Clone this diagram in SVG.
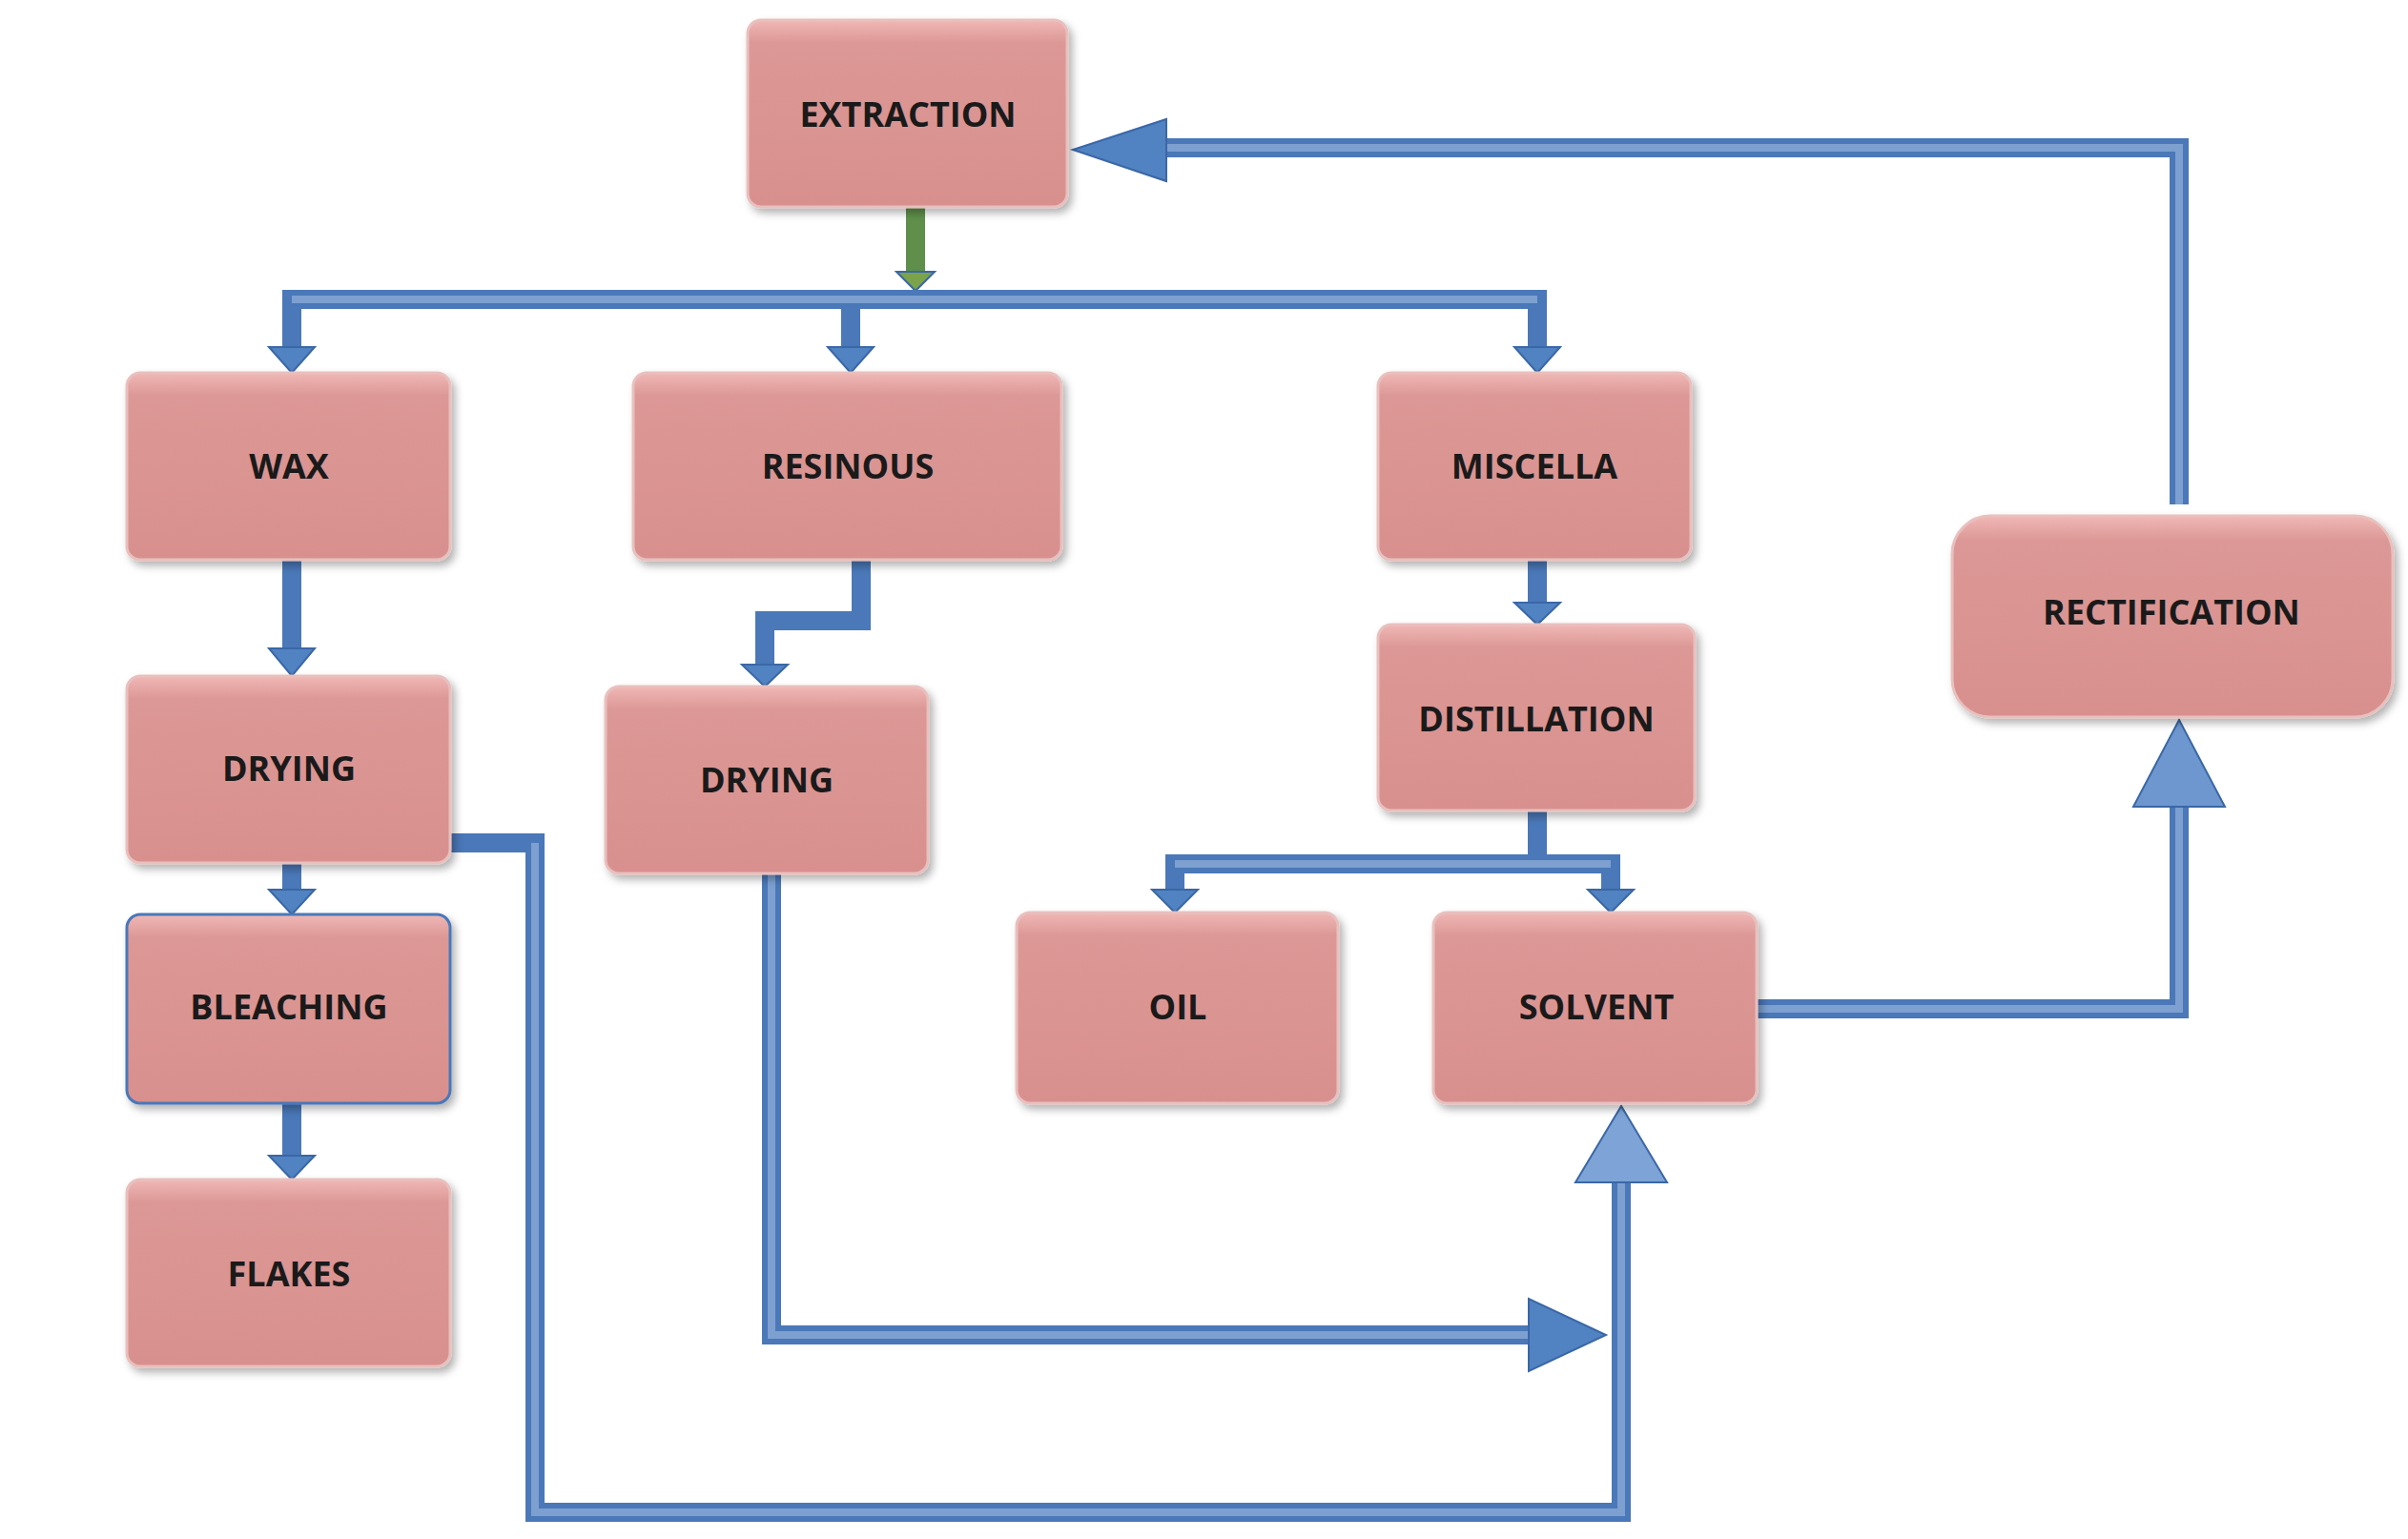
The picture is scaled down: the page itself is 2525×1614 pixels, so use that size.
<svg xmlns="http://www.w3.org/2000/svg" width="2525" height="1614" viewBox="0 0 2525 1614">
<defs>
<linearGradient id="bg" x1="0" y1="0" x2="0" y2="1"><stop offset="0" stop-color="#f0b8b6"/><stop offset="0.12" stop-color="#dc9896"/><stop offset="1" stop-color="#d8908e"/></linearGradient>
<filter id="sh" x="-10%" y="-10%" width="130%" height="130%"><feDropShadow dx="4" dy="5" stdDeviation="4" flood-color="#000" flood-opacity="0.3"/></filter>
</defs>
<style>
.b{fill:url(#bg);stroke:#e8c0be;stroke-width:3;filter:url(#sh)}
.t{font-family:"Open Sans","DejaVu Sans",sans-serif;font-weight:bold;font-size:36px;fill:#1a1a1a;text-anchor:middle;dominant-baseline:central}
.p{fill:none;stroke:#4a78b8;stroke-width:20;stroke-linejoin:miter}
.pi{fill:none;stroke:#7da0d0;stroke-width:8}
.a{fill:#5182c2;stroke:#3a67a6;stroke-width:2}
</style>
<rect width="2525" height="1614" fill="#fff"/>
<g id="connectors">
<path class="p" d="M960 217V290" style="stroke:#5f8f4a"/>
<polygon class="a" points="940,285 980,285 960,305" style="fill:#7aa34a"/>
<path class="p" d="M306 368V314H1612V368M892 314V368"/>
<path class="pi" d="M306 314H1612"/>
<path class="p" d="M306 587V685M306 905V935M306 1157V1215M1612 587V635M1612 850V906M903 587V651H802V700"/>
<path class="p" d="M1232 935V906H1689V935"/>
<path class="pi" d="M1232 906H1689"/>
<path class="p" d="M1842 1058H2285V840"/>
<path class="pi" d="M1842 1058H2285V840"/>
<path class="p" d="M2285 529V155H1200"/>
<path class="pi" d="M2285 529V155H1200"/>
<path class="p" d="M472 884H561V1586H1700V1235"/>
<path class="pi" d="M561 884V1586H1700V1235"/>
<path class="p" d="M809 916V1400H1610"/>
<path class="pi" d="M809 916V1400H1610"/>
<polygon class="a" points="282,364 330,364 306,391"/>
<polygon class="a" points="868,364 916,364 892,391"/>
<polygon class="a" points="1588,364 1636,364 1612,391"/>
<polygon class="a" points="282,680 330,680 306,709"/>
<polygon class="a" points="282,933 330,933 306,959"/>
<polygon class="a" points="282,1212 330,1212 306,1237"/>
<polygon class="a" points="1588,632 1636,632 1612,655"/>
<polygon class="a" points="778,697 826,697 802,720"/>
<polygon class="a" points="1208,933 1256,933 1232,957"/>
<polygon class="a" points="1665,933 1713,933 1689,957"/>
<polygon class="a" points="2237,846 2333,846 2285,755" style="fill:#6e97cf"/>
<polygon class="a" points="1223,125 1223,190 1125,157"/>
<polygon class="a" points="1652,1240 1748,1240 1700,1160" style="fill:#7ea3d6"/>
<polygon class="a" points="1603,1362 1603,1438 1684,1400"/>
</g>
<g id="extraction"><rect class="b" x="784" y="21" width="335" height="196" rx="14"/><text class="t" x="952" y="119">EXTRACTION</text></g>
<g id="wax"><rect class="b" x="133" y="391" width="339" height="196" rx="14"/><text class="t" x="303" y="488">WAX</text></g>
<g id="resinous"><rect class="b" x="664" y="391" width="449" height="196" rx="14"/><text class="t" x="889" y="488">RESINOUS</text></g>
<g id="miscella"><rect class="b" x="1445" y="391" width="328" height="196" rx="14"/><text class="t" x="1609" y="488">MISCELLA</text></g>
<g id="drying1"><rect class="b" x="133" y="709" width="339" height="196" rx="14"/><text class="t" x="303" y="805">DRYING</text></g>
<g id="bleaching"><rect class="b" x="133" y="959" width="339" height="198" rx="14" style="stroke:#4a78b8"/><text class="t" x="303" y="1055">BLEACHING</text></g>
<g id="flakes"><rect class="b" x="133" y="1237" width="339" height="196" rx="14"/><text class="t" x="303" y="1335">FLAKES</text></g>
<g id="drying2"><rect class="b" x="635" y="720" width="338" height="196" rx="14"/><text class="t" x="804" y="817">DRYING</text></g>
<g id="distillation"><rect class="b" x="1445" y="655" width="332" height="195" rx="14"/><text class="t" x="1611" y="753">DISTILLATION</text></g>
<g id="oil"><rect class="b" x="1066" y="957" width="337" height="200" rx="14"/><text class="t" x="1235" y="1055">OIL</text></g>
<g id="solvent"><rect class="b" x="1503" y="957" width="339" height="200" rx="14"/><text class="t" x="1674" y="1055">SOLVENT</text></g>
<g id="rectification"><rect class="b" x="2047" y="541" width="462" height="211" rx="40"/><text class="t" x="2277" y="641">RECTIFICATION</text></g>
</svg>
